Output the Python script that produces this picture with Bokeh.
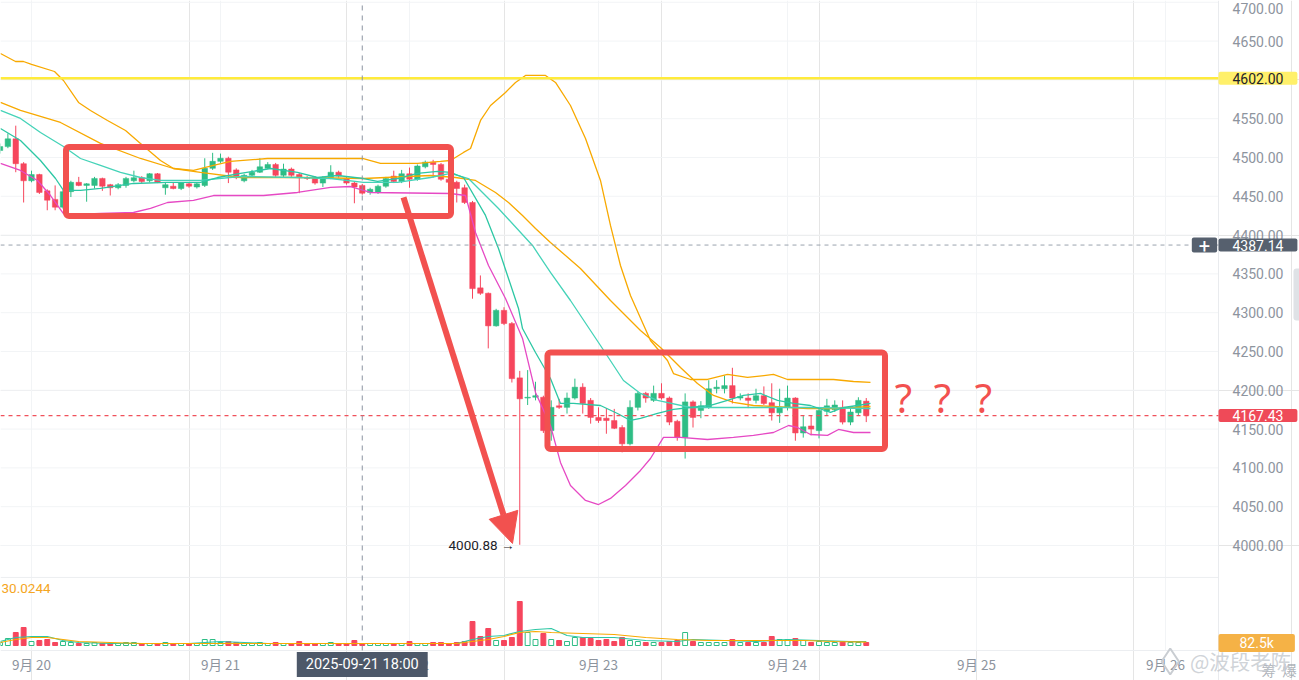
from bokeh.plotting import figure
from bokeh.models import Range1d, BoxAnnotation, Label, Arrow, NormalHead, ColumnDataSource
from bokeh.core.properties import value
from bokeh.embed import file_html
from bokeh.resources import INLINE

# ---------------- data (hourly candles, hour 0 = 2025-09-20 00:00) ----------------
hours = list(range(-4, 107))
opens = [4509, 4514, 4524, 4492, 4470, 4478, 4457, 4446, 4436, 4456,
         4468, 4464, 4464, 4473, 4465, 4461, 4464, 4470, 4474, 4470,
         4479, 4461, 4463, 4460, 4466, 4462, 4464, 4486, 4495, 4499,
         4484, 4470, 4477, 4481, 4486, 4491, 4477, 4485, 4478, 4474,
         4474, 4467, 4474, 4481, 4473, 4467, 4464, 4455, 4455, 4463,
         4476, 4469, 4479, 4472, 4488, 4494, 4491, 4472, 4468, 4461,
         4442, 4332, 4325, 4283, 4303, 4286, 4216, 4190, 4191, 4191,
         4148, 4180, 4178, 4190, 4204, 4187, 4165, 4164, 4161, 4152,
         4131, 4178, 4196, 4187, 4196, 4190, 4160, 4139, 4185, 4174,
         4178, 4202, 4202, 4206, 4190, 4190, 4187, 4193, 4184, 4171,
         4178, 4190, 4145, 4154, 4148, 4173, 4175, 4178, 4159, 4171, 4186]
highs = [4518, 4531, 4541, 4494, 4483, 4479, 4459, 4464, 4458, 4470,
         4475, 4467, 4475, 4474, 4466, 4467, 4475, 4483, 4476, 4480,
         4480, 4468, 4468, 4468, 4468, 4468, 4499, 4506, 4505, 4501,
         4486, 4479, 4484, 4499, 4494, 4493, 4492, 4487, 4480, 4476,
         4476, 4476, 4490, 4483, 4475, 4469, 4466, 4461, 4465, 4475,
         4483, 4484, 4487, 4491, 4496, 4497, 4493, 4474, 4470, 4465,
         4444, 4348, 4326, 4305, 4307, 4288, 4225, 4226, 4211, 4193,
         4187, 4189, 4197, 4215, 4209, 4190, 4178, 4177, 4176, 4155,
         4187, 4198, 4198, 4206, 4209, 4192, 4162, 4196, 4187, 4186,
         4213, 4213, 4219, 4229, 4196, 4196, 4202, 4205, 4209, 4202,
         4206, 4191, 4167, 4167, 4178, 4189, 4187, 4187, 4178, 4191, 4190]
lows = [4505, 4512, 4481, 4442, 4468, 4453, 4432, 4432, 4434, 4449,
        4463, 4443, 4460, 4457, 4451, 4459, 4461, 4468, 4467, 4468,
        4467, 4452, 4459, 4458, 4461, 4460, 4462, 4484, 4493, 4467,
        4472, 4468, 4475, 4480, 4485, 4475, 4474, 4475, 4454, 4471,
        4465, 4462, 4472, 4474, 4465, 4441, 4452, 4452, 4453, 4461,
        4467, 4467, 4461, 4470, 4486, 4474, 4470, 4465, 4442, 4440,
        4318, 4323, 4254, 4282, 4284, 4210, 4000.88, 4181, 4187, 4145,
        4135, 4176, 4170, 4188, 4170, 4157, 4158, 4144, 4150, 4120,
        4129, 4174, 4184, 4185, 4188, 4155, 4135, 4112, 4152, 4164,
        4176, 4196, 4196, 4183, 4187, 4177, 4183, 4181, 4161, 4158,
        4174, 4135, 4139, 4142, 4138, 4168, 4172, 4156, 4155, 4167, 4159]
closes = [4514, 4524, 4492, 4470, 4478, 4455, 4445, 4436, 4456, 4468,
          4464, 4466, 4473, 4463, 4461, 4465, 4473, 4474, 4469, 4479,
          4468, 4465, 4460, 4467, 4463, 4466, 4486, 4495, 4499, 4481,
          4474, 4477, 4481, 4488, 4491, 4477, 4485, 4477, 4474, 4473,
          4467, 4474, 4481, 4476, 4467, 4462, 4454, 4459, 4463, 4473,
          4469, 4479, 4472, 4489, 4494, 4491, 4472, 4468, 4460, 4442,
          4331, 4325, 4283, 4303, 4286, 4215, 4189, 4191, 4193, 4148,
          4178, 4178, 4190, 4204, 4183, 4165, 4161, 4161, 4151, 4131,
          4178, 4196, 4190, 4196, 4190, 4159, 4139, 4185, 4165, 4180,
          4202, 4204, 4206, 4190, 4192, 4187, 4193, 4183, 4171, 4178,
          4190, 4145, 4153, 4150, 4174, 4180, 4181, 4159, 4172, 4187, 4167.43]
volume_k = [75, 175, 325, 450, 100, 125, 150, 75, 100, 75,
            50, 50, 75, 50, 50, 50, 75, 75, 50, 50,
            50, 75, 50, 50, 50, 50, 150, 150, 75, 100,
            75, 50, 50, 75, 50, 75, 50, 50, 100, 50,
            50, 50, 75, 50, 50, 125, 50, 50, 50, 50,
            50, 50, 100, 50, 50, 75, 75, 50, 75, 100,
            600, 225, 425, 125, 125, 200, 1100, 325, 150, 300,
            150, 125, 100, 200, 200, 175, 125, 150, 100, 200,
            125, 100, 75, 75, 75, 100, 125, 325, 100, 75,
            75, 75, 75, 150, 75, 75, 75, 75, 225, 150,
            150, 175, 125, 75, 100, 75, 75, 100, 75, 75, 75]

# indicator lines (hour, value)
boll_up_h = [-3.94, -2.03, -1.02, 0, 2.92, 4.06, 5.97, 7.49, 9.65, 11.94, 13.84, 16.38, 18.03, 20.57,
             23.11, 25.27, 29.97, 42.03, 44.32, 49.02, 51.94, 53.21, 54.86, 55.75, 57.02, 58.29,
             60.19, 61.46, 62.73, 65.27, 66.54, 68.44, 70.35, 72.25, 73.52, 74.79, 76.06, 78.6,
             80.76, 81.52, 83.68, 85.84, 88.38, 90.92, 94.22, 96.0, 101.84, 104.38, 106.54]
boll_up_v = [4634.0, 4623.7, 4623.7, 4619.9, 4610.8, 4599.2, 4570.9, 4560.6, 4547.7, 4534.8, 4518.1,
             4496.1, 4485.8, 4483.3, 4489.7, 4494.9, 4498.7, 4498.7, 4492.3, 4492.3, 4494.9, 4496.1,
             4506.5, 4511.6, 4547.7, 4567.0, 4583.8, 4596.7, 4605.7, 4605.7, 4596.7, 4567.0, 4524.5,
             4470.4, 4412.4, 4360.8, 4322.2, 4264.2, 4238.4, 4221.6, 4213.9, 4213.9, 4220.4, 4216.5,
             4220.4, 4213.9, 4213.9, 4211.3, 4210.1]
ma_orange_h = [-3.94, -1.40, 3.68, 8.76, 13.84, 18.03, 21.46, 26.54, 34.16, 42.16, 50.67, 53.84,
               56.38, 58.92, 60.57, 62.35, 64.0, 65.9, 69.71, 73.52, 77.33, 79.87, 82.41, 84.57,
               86.6, 89.14, 91.68, 94.22, 98.54, 101.84, 104.38, 106.54]
ma_orange_v = [4570.9, 4560.6, 4545.1, 4518.1, 4498.7, 4485.8, 4480.7, 4474.2, 4474.2, 4472.9,
               4476.8, 4474.2, 4470.4, 4454.9, 4442.0, 4425.3, 4408.5, 4390.5, 4357.0, 4315.7,
               4277.1, 4255.2, 4229.4, 4208.8, 4193.3, 4184.3, 4180.4, 4179.1, 4176.5, 4176.5,
               4177.8, 4179.1]
boll_dn_h = [-3.94, -1.40, 0.76, 2.41, 4.06, 5.84, 8.76, 12.95, 15.11, 17.27, 20.57, 23.11, 29.46,
             33.78, 37.97, 40.51, 42.16, 43.05, 53.21, 55.11, 56.38, 58.03, 60.19, 62.35, 64.0,
             65.9, 67.17, 68.44, 70.35, 72.0, 73.52, 75.43, 77.33, 78.6, 80.25, 82.41, 85.84,
             89.14, 91.68, 94.22, 96.13, 97.27, 98.92, 101.08, 102.48, 104.38, 106.54]
boll_dn_v = [4492.3, 4483.3, 4470.4, 4451.0, 4427.8, 4426.6, 4427.8, 4429.1, 4434.3, 4442.0, 4444.6,
             4451.0, 4451.0, 4454.9, 4461.4, 4462.6, 4457.5, 4454.9, 4453.6, 4451.0, 4403.4, 4360.8,
             4318.3, 4266.8, 4197.2, 4154.6, 4107.0, 4077.3, 4058.0, 4052.8, 4060.6, 4077.3, 4096.7,
             4112.1, 4139.2, 4139.2, 4136.6, 4139.2, 4141.8, 4145.6, 4154.6, 4152.1, 4143.0, 4141.8,
             4149.5, 4145.6, 4145.6]
ma_fast_h = [-3.94, -1.40, 1.14, 3.05, 4.06, 6.22, 8.76, 12.95, 17.27, 21.46, 23.62, 26.54, 30.35,
             33.78, 36.32, 38.86, 42.16, 43.94, 46.48, 49.02, 51.56, 53.21, 54.86, 57.65, 59.30,
             60.57, 61.84, 62.35, 64.0, 65.9, 67.17, 68.83, 72.25, 74.41, 76.06, 77.33, 79.49,
             81.52, 83.68, 86.22, 88.38, 90.41, 92.57, 94.73, 96.76, 98.92, 101.46, 103.11, 104.89,
             106.54]
ma_fast_v = [4537.4, 4521.9, 4496.1, 4472.9, 4457.5, 4457.5, 4460.1, 4466.5, 4467.8, 4467.8, 4474.2,
             4479.4, 4485.8, 4480.7, 4474.2, 4476.8, 4472.9, 4469.1, 4472.9, 4479.4, 4482.0, 4480.7,
             4474.2, 4425.3, 4382.7, 4344.1, 4305.4, 4279.6, 4248.7, 4215.2, 4183.0, 4183.0, 4180.4,
             4170.1, 4161.1, 4163.7, 4170.1, 4175.3, 4177.8, 4180.4, 4186.9, 4193.3, 4195.9, 4186.9,
             4183.0, 4180.4, 4171.4, 4177.8, 4180.4, 4183.0]
ma_slow_h = [-3.94, -1.40, 1.14, 4.06, 6.22, 8.76, 11.3, 13.84, 16.38, 21.46, 26.54, 33.78, 37.97,
             42.16, 46.48, 50.67, 53.21, 55.49, 59.30, 63.62, 65.9, 68.44, 72.25, 75.17, 77.33,
             79.49, 83.68, 90.03, 98.54, 106.54]
ma_slow_v = [4560.6, 4550.3, 4532.2, 4514.2, 4498.7, 4489.7, 4480.7, 4474.2, 4470.4, 4470.4, 4475.5,
             4474.2, 4472.9, 4467.8, 4467.8, 4474.2, 4479.4, 4472.9, 4434.3, 4386.6, 4351.8, 4315.7,
             4257.7, 4212.6, 4195.9, 4186.9, 4177.8, 4177.8, 4177.8, 4176.5]
vol_ma1_h = [-4, -2, 0, 2, 4, 6, 10, 20, 22, 24, 27, 30, 54, 56, 58, 60, 62, 64, 66, 68, 70, 74, 78,
             82, 84, 88, 92, 96, 100, 104, 106]
vol_ma1_v = [100, 200, 225, 225, 125, 75, 50, 50, 75, 100, 75, 50, 50, 150, 225, 250, 350, 400, 425,
             250, 200, 200, 125, 100, 150, 125, 100, 150, 125, 100, 100]
vol_ma2_h = [-4, -2, 0, 2, 4, 6, 10, 14, 54, 56, 58, 60, 62, 64, 66, 70, 74, 78, 82, 86, 90, 94, 98,
             102, 106]
vol_ma2_v = [75, 150, 200, 200, 150, 100, 75, 50, 50, 100, 150, 225, 325, 350, 325, 300, 275, 200,
             150, 125, 125, 125, 125, 100, 82.5]

day_ticks = [0, 24, 48, 72, 96, 120, 144]
day_labels = ["9月 20", "9月 21", "9月 22", "9月 23", "9月 24", "9月 25", "9月 26"]
price_ticks = [4000 + 50 * i for i in range(15)]

resistance = 4602.00
last_price = 4167.43
cross_price = 4387.14
cross_hour = 42
cross_text = "2025-09-21 18:00"
low_price = 4000.88
low_hour = 62
vol_ma_last = "82.5k"
vol_ma_label = "30.0244"
watermark = "@波段老陈"
corner_buttons = ["筹", "爆"]

# layout in data units (hours / prices)
XMIN, XMAX = -3.937, 161.016          # whole canvas
YMIN, YMAX = 3826.0, 4702.3
AXIS_H = 150.73                         # right price-axis boundary
TICK_LABEL_H = 152.51
DAY_LABEL_P = 3847.9
PANE_SEP_P = 3958.8
PANE_BOTTOM_P = 3864.7
# keep the topmost tick label inside the canvas
tick_label_y = [min(t, YMAX - 10.5) for t in price_ticks]

box1 = dict(left=4.38, right=53.27, top=4513.5, bottom=4424.6)
box2 = dict(left=65.52, right=108.38, top=4248.7, bottom=4124.4)
arrow_from = (47.24, 4448.5)
arrow_to = (61.08, 4002.6)
qmark_h = [110.73, 115.68, 120.89]
qmark_p = [4190.7, 4190.7, 4190.7]

GREEN = "#2ebd85"
RED = "#f6465d"
ANN = "#f2514f"
ORANGE = "#f8a900"
TEAL1 = "#2cc7a4"
TEAL2 = "#45d3b8"
MAGENTA = "#e649c4"
GRID = "#f2f4f6"
AXTXT = "#8d949e"

inc = [c >= o for o, c in zip(opens, closes)]
colors = [GREEN if i else RED for i in inc]
vfill = ["#ffffff" if i else RED for i in inc]
tops = [max(o, c) for o, c in zip(opens, closes)]
bots = [min(o, c) if abs(o - c) > 0.8 else max(o, c) - 0.8 for o, c in zip(opens, closes)]

src = ColumnDataSource(dict(h=hours, hi=highs, lo=lows, top=tops, bot=bots,
                            color=colors, vfill=vfill, vol=volume_k))

p = figure(width=1299, height=680, x_range=Range1d(XMIN, XMAX), y_range=Range1d(YMIN, YMAX),
           output_backend="svg", toolbar_location=None,
           x_axis_location=None, y_axis_location=None, min_border=0,
           background_fill_color="white", border_fill_color="white", outline_line_color=None)
# volume pane: baseline 35px above the bottom, 25k per pixel
p.extra_y_ranges = {"vol": Range1d(-875, 16125)}

# grid and pane borders
p.segment(x0=[XMIN] * len(price_ticks), x1=[AXIS_H] * len(price_ticks),
          y0=price_ticks, y1=price_ticks, line_color=GRID, line_width=1)
p.segment(x0=day_ticks, x1=day_ticks, y0=[PANE_BOTTOM_P] * len(day_ticks),
          y1=[YMAX] * len(day_ticks), line_color=GRID, line_width=1)
p.segment(x0=[XMIN, XMIN], x1=[AXIS_H, AXIS_H], y0=[PANE_SEP_P, PANE_BOTTOM_P],
          y1=[PANE_SEP_P, PANE_BOTTOM_P], line_color="#eceef1", line_width=1)
p.segment(x0=[AXIS_H], x1=[AXIS_H], y0=[YMIN], y1=[YMAX], line_color="#e9ebee", line_width=1)

# volume
p.vbar(x="h", top="vol", bottom=0, width=0.62, fill_color="vfill", line_color="color",
       line_width=1, y_range_name="vol", source=src)
p.line(vol_ma1_h, vol_ma1_v, line_color=TEAL1, line_width=1.2, y_range_name="vol")
p.line(vol_ma2_h, vol_ma2_v, line_color=ORANGE, line_width=1.2, y_range_name="vol")

# candles
p.segment(x0="h", y0="lo", x1="h", y1="hi", line_color="color", line_width=1, source=src)
p.vbar(x="h", top="top", bottom="bot", width=0.7, fill_color="color", line_color="color",
       line_width=0.5, source=src)

# indicator lines
p.line(ma_orange_h, ma_orange_v, line_color=ORANGE, line_width=1.3)
p.line(boll_up_h, boll_up_v, line_color=ORANGE, line_width=1.3)
p.line(ma_slow_h, ma_slow_v, line_color=TEAL2, line_width=1.3)
p.line(ma_fast_h, ma_fast_v, line_color=TEAL1, line_width=1.3)
p.line(boll_dn_h, boll_dn_v, line_color=MAGENTA, line_width=1.3)

# horizontal levels and crosshair
p.segment(x0=[XMIN], x1=[AXIS_H], y0=[resistance], y1=[resistance],
          line_color="#ffeb3b", line_width=2.5)
p.segment(x0=[XMIN], x1=[AXIS_H], y0=[cross_price], y1=[cross_price],
          line_color="#9aa2ad", line_width=1, line_dash="4 4")
p.segment(x0=[XMIN], x1=[AXIS_H], y0=[last_price], y1=[last_price],
          line_color="#f0515b", line_width=1.3, line_dash="4 4")
p.segment(x0=[cross_hour], x1=[cross_hour], y0=[PANE_BOTTOM_P], y1=[YMAX],
          line_color="#8a93a0", line_width=1, line_dash="5 5")

# axis tick labels (right price scale, bottom dates)
p.text(x=[TICK_LABEL_H] * len(price_ticks), y=tick_label_y,
       text=[f"{t:.2f}" for t in price_ticks], text_color=AXTXT,
       text_font=value("Roboto"), text_font_size="14px",
       text_align="left", text_baseline="middle")
p.text(x=day_ticks, y=[DAY_LABEL_P] * len(day_ticks), text=day_labels, text_color=AXTXT,
       text_font=value("Noto Sans CJK SC"), text_font_size="13.5px",
       text_align="center", text_baseline="middle")

# annotations
p.add_layout(BoxAnnotation(fill_alpha=0, line_color=ANN, line_alpha=1, line_width=6,
                           border_radius=3, **box1))
p.add_layout(BoxAnnotation(fill_alpha=0, line_color=ANN, line_alpha=1, line_width=6,
                           border_radius=3, **box2))
p.add_layout(Arrow(end=NormalHead(size=30, fill_color=ANN, line_color=ANN),
                   x_start=arrow_from[0], y_start=arrow_from[1],
                   x_end=arrow_to[0], y_end=arrow_to[1],
                   line_color=ANN, line_width=6))
p.text(x=qmark_h, y=qmark_p, text=["?", "?", "?"], text_color=ANN,
       text_font=value("Noto Sans"), text_font_size="40px",
       text_align="center", text_baseline="middle")

p.add_layout(Label(x=low_hour - 9.05, y=low_price, text=f"{low_price:.2f} →",
                   text_font="Roboto", text_font_size="13.5px", text_color="#1e2329",
                   text_baseline="middle", text_align="left"))

p.add_layout(Label(x=XMIN + 0.13, y=3944.6, text=vol_ma_label, text_font="Roboto",
                   text_font_size="13.5px", text_color="#f5a623", text_baseline="middle"))

# right edge grab tab
p.add_layout(BoxAnnotation(left=160.25, right=XMAX + 1, top=4357.0, bottom=4290.0,
                           fill_color="#dfe2e6", fill_alpha=1, line_alpha=0, border_radius=3))


def tag(y, txt, bg, fg, pad, y_range_name="default"):
    p.add_layout(Label(x=AXIS_H, y=y, text=txt, x_offset=0, text_align="left",
                       text_baseline="middle", text_font="Roboto", text_font_size="14px",
                       text_color=fg, background_fill_color=bg, padding=(pad, 1),
                       border_radius=2, y_range_name=y_range_name))


tag(resistance, f"{resistance:.2f}", "#fff06a", "#1e2329", 14)
tag(cross_price, f"{cross_price:.2f}", "#56606e", "#ffffff", 14)
tag(last_price, f"{last_price:.2f}", "#ef4a58", "#ffffff", 14)
tag(60, vol_ma_last, "#f5b246", "#ffffff", 21, "vol")

p.add_layout(Label(x=148.95, y=cross_price, text="+", text_align="center",
                   text_baseline="middle", text_font="Roboto", text_font_size="20px",
                   text_color="#ffffff", background_fill_color="#56606e", padding=(7, 0),
                   border_radius=2))

p.add_layout(Label(x=cross_hour, y=3846.6, text=cross_text, text_align="center",
                   text_baseline="middle", text_font="Roboto", text_font_size="14.5px",
                   text_color="#ffffff", background_fill_color="#4d5869", padding=(9, 4)))

# watermark (logo + name) and corner buttons
p.scatter(x=[144.6], y=[3850.5], marker="diamond", size=26, fill_alpha=0,
          line_color="#c9cdd2", line_width=2)
p.add_layout(Label(x=147.1, y=3850.5, text=watermark, text_align="left",
                   text_baseline="middle", text_font="Noto Sans CJK SC", text_font_size="20.5px",
                   text_color="#c3c8ce", text_alpha=0.8))
p.text(x=[157.1, 159.75], y=[3840.5, 3840.5], text=corner_buttons, text_color="#9aa0a8",
       text_font=value("Noto Sans CJK SC"), text_font_size="14.5px",
       text_align="center", text_baseline="middle", text_alpha=0.8)

open("out.html", "w").write(file_html(p, INLINE))
